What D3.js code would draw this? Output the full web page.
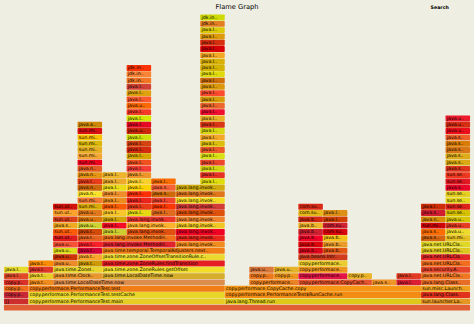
<!DOCTYPE html>
<html><head><meta charset="utf-8">
<script src="https://cdn.jsdelivr.net/npm/d3@7"></script>
<style>html,body{margin:0;padding:0;background:#efeee3;overflow:hidden}svg{display:block}</style>
</head><body>
<script>
// ---------- DATA (folded stacks, one sample each) ----------
const chartTitle = "Flame Graph";
const searchLabel = "Search";

const mainPath = ["copy.performace.PerformanceTest.main","copy.performace.PerformanceTest.testCache","copy.performace.PerformanceTest.test"];
const nowPath = ["java.time.LocalDateTime.now"];
const zonePath = ["java.time.Clock.systemDefaultZone","java.time.ZoneId.systemDefault"];
const rulesPath = ["java.time.LocalDateTime.now","java.time.zone.ZoneRules.getOffset","java.time.zone.ZoneRules.findTransition",
  "java.time.zone.ZoneOffsetTransitionRule.createTransition","java.time.temporal.TemporalAdjusters.nextOrSame"];
const linkPath = ["java.lang.invoke.MethodHandleNatives.linkCallSite","java.lang.invoke.MethodHandleNatives.linkCallSiteImpl"];
const invokePath = ["java.lang.invoke.CallSite.makeSite","java.lang.invoke.BootstrapMethodInvoker.invoke","java.lang.invoke.LambdaMetafactory.metafactory"];
const lambdaPath = ["java.lang.invoke.Invokers$Holder.linkToTargetMethod","java.lang.invoke.InnerClassLambdaMetafactory.buildCallSite",
  "java.lang.invoke.InnerClassLambdaMetafactory.spinInnerClass","java.lang.invoke.InvokerBytecodeGenerator.generate",
  "java.lang.invoke.InvokerBytecodeGenerator.emitBody","java.lang.invoke.InvokerBytecodeGenerator.emitInvoke",
  "java.lang.invoke.LambdaForm.compileToBytecode","java.lang.invoke.MemberName$Factory.resolve",
  "java.lang.invoke.MethodHandles$Lookup.resolveOrFail","java.lang.invoke.DirectMethodHandle.make"];
const threadPath = ["java.lang.Thread.run","copy.performace.PerformanceTest$RunCache.run","copy.performace.CopyCache.copy"];
const copierPath = ["copy.performace.CopyCache.getCopier","copy.performace.BeanCopier.create","copy.performace.BeanCopier.generate",
  "copy.performace.BeanCopier.getProperties","java.beans.Introspector.getBeanInfo"];
const launcherPath = ["sun.launcher.LauncherHelper.checkAndLoadMain","java.lang.Class.forName","sun.misc.Launcher$AppClassLoader.loadClass",
  "java.lang.ClassLoader.loadClass","java.net.URLClassLoader.findClass","java.security.AccessController.doPrivileged",
  "java.net.URLClassLoader$1.run","java.net.URLClassLoader.defineClass","java.net.URLClassLoader.getAndVerifyPackage","java.net.URLClassLoader.definePackage"];

const stacks = [
  ["[]","copy.performace.PerformanceTest.<clinit>","copy.performace.CopyCache.<clinit>","copy.performace.CopyCache.init","java.lang.Class.forName0","java.lang.ClassLoader.loadClass"],
  [...mainPath,"java.time.LocalDateTime.format","java.time.format.DateTimeFormatter.format","java.time.format.DateTimeFormatter.formatTo","java.time.format.DateTimeFormatterBuilder$CompositePrinterParser.format"],
  [...mainPath,...nowPath,...zonePath,"java.util.TimeZone.getDefault","java.util.TimeZone.getDefaultRef","java.util.TimeZone.setDefaultZone","java.util.TimeZone.getTimeZone",
    "sun.util.calendar.ZoneInfo.getTimeZone","sun.util.calendar.ZoneInfoFile.getZoneInfo","java.security.AccessController.doPrivileged",
    "sun.util.calendar.ZoneInfoFile$1.run","sun.util.calendar.ZoneInfoFile.load","sun.util.calendar.ZoneInfoFile.getZoneInfo0"],
  [...mainPath,...nowPath,...zonePath,"java.time.ZoneId.of","java.time.ZoneRegion.ofId","java.time.zone.ZoneRulesProvider.getRules",
    "java.time.zone.ZoneRulesProvider.getProvider","java.time.zone.ZoneRulesProvider.<clinit>","java.time.zone.TzdbZoneRulesProvider.<init>",
    "java.util.ServiceLoader$LazyIterator.next","java.util.ServiceLoader$LazyIterator.nextService","java.util.ServiceLoader.load",
    "sun.misc.Launcher$AppClassLoader.loadClass","sun.misc.URLClassPath.getResource","java.net.URLClassLoader.findClass","java.net.URLClassLoader.defineClass",
    "java.time.zone.Ser.read","java.net.URL.openStream","java.net.URLConnection.getInputStream",
    "sun.misc.URLClassPath$JarLoader.getResource","sun.misc.URLClassPath$JarLoader.ensureOpen","sun.misc.URLClassPath$JarLoader.getJarFile",
    "sun.misc.URLClassPath$JarLoader.checkJar","sun.misc.PerfCounter.addElapsedTimeFrom","sun.misc.PerfCounter.add","java.awt.Toolkit.getDefaultToolkit"],
  [...mainPath,...nowPath,...rulesPath,...linkPath,"java.lang.invoke.CallSite.makeSiteA","java.lang.invoke.BootstrapMethodInvoker.invokeA",
    "java.lang.invoke.MethodHandle.invokeWithArguments","java.lang.invoke.LambdaForm$MH.invoke","java.lang.invoke.DelegatingMethodHandle$Holder.reinvoke",
    "java.lang.invoke.DirectMethodHandle$Holder.invokeStatic","java.lang.invoke.LambdaMetafactory.metafactoryA","java.lang.invoke.InnerClassLambdaMetafactory.<init>",
    "java.lang.invoke.AbstractValidatingLambdaMetafactory.<init>","java.lang.invoke.LambdaForm$DMH.invokeStatic"],
  [...mainPath,...nowPath,...rulesPath,...linkPath,...invokePath,"java.lang.invoke.InnerClassLambdaMetafactory.buildCallSite","java.lang.invoke.InnerClassLambdaMetafactory.spinInnerClass",
    "java.lang.invoke.InnerClassLambdaMetafactory.generate","java.lang.invoke.InvokerBytecodeGenerator.generateCustomizedCode","java.lang.invoke.InvokerBytecodeGenerator.generateCustomizedCodeBytes",
    "java.lang.invoke.InvokerBytecodeGenerator.emitStaticInvoke","java.lang.invoke.InvokerBytecodeGenerator.emitPushArguments","java.lang.invoke.InvokerBytecodeGenerator.emitPushArgument",
    "java.lang.invoke.LambdaForm.compileToBytecode","java.lang.invoke.LambdaForm.prepare","java.lang.invoke.LambdaForm.<init>","java.lang.invoke.LambdaForm.normalize",
    "java.lang.invoke.MethodType.makeImpl","java.util.Arrays.copyOf","java.lang.invoke.MethodType$ConcurrentWeakInternSet.add","java.lang.invoke.MethodTypeForm.findForm",
    "java.lang.invoke.MethodHandles$Lookup.findStatic","java.util.concurrent.ConcurrentHashMap.putIfAbsent","java.lang.invoke.MethodHandles$Lookup.resolveOrFail",
    "java.lang.invoke.MemberName$Factory.resolveOrFail","java.lang.invoke.MemberName$Factory.resolve","jdk.internal.misc.Unsafe.ensureClassInitialized",
    "jdk.internal.misc.Unsafe.ensureClassInitialized0","jdk.internal.reflect.Reflection.getCallerClass"],
  [...mainPath,...nowPath,...rulesPath,...linkPath,...invokePath,"java.lang.invoke.InnerClassLambdaMetafactory.buildCallSiteB","java.lang.invoke.InnerClassLambdaMetafactory.spinInnerClassB",
    "java.lang.invoke.InvokerBytecodeGenerator.generateB","java.security.AccessController.doPrivileged","java.security.ProtectionDomain.getCodeSource","java.lang.ClassLoader.defineClass1"],
  [...mainPath,...nowPath,...rulesPath,...lambdaPath],
  [...mainPath,...nowPath,...rulesPath,...lambdaPath,
    "java.lang.invoke.DirectMethodHandle.preparedLambdaForm","java.lang.invoke.DirectMethodHandle.makePreparedLambdaForm","java.lang.invoke.LambdaForm.compileToBytecodeC",
    "java.lang.invoke.InvokerBytecodeGenerator.generateCustomizedCodeC","java.lang.invoke.InvokerBytecodeGenerator.generateCustomizedCodeBytesC","java.lang.invoke.InvokerBytecodeGenerator.addMethod",
    "java.lang.invoke.InvokerBytecodeGenerator.emitStaticInvokeC","java.lang.invoke.InvokerBytecodeGenerator.isStaticallyInvocable","java.lang.invoke.InvokerBytecodeGenerator.isStaticallyNameable",
    "java.lang.invoke.MemberName.getDeclaringClass","java.lang.invoke.MemberName$Factory.resolveC","java.lang.invoke.MethodHandleNatives.resolve",
    "java.lang.invoke.MethodHandleNatives.linkMethod","java.lang.invoke.Invokers.methodHandleInvokeLinkerMethod","java.lang.invoke.Invokers.invokeHandleForm",
    "java.lang.invoke.LambdaForm.<init>C","java.lang.invoke.LambdaForm$Name.<init>","java.lang.invoke.LambdaForm$NamedFunction.<init>","java.lang.invoke.LambdaForm$NamedFunction.methodType",
    "java.lang.invoke.MethodType.methodType","java.lang.invoke.MethodType.makeImplC","java.lang.invoke.MethodTypeForm.findFormC","java.lang.invoke.MethodTypeForm.<init>",
    "java.lang.invoke.MethodTypeForm.canonicalize","java.lang.invoke.MethodType.insertParameterTypes",
    "jdk.internal.misc.VM.isBooted","jdk.internal.misc.VM.initLevel"],
  [...threadPath],
  [...threadPath,"copy.performace.CopyCache.copyProperties","copy.performace.CopyCache.copyField","java.util.HashMap.get"],
  [...threadPath,"copy.performace.CopyCache.copyProperties","copy.performace.CopyCache.copyValue","java.util.HashMap.put"],
  [...threadPath,...copierPath,"java.beans.Introspector.<init>","java.beans.Introspector.getBeanInfoA","java.beans.Introspector.getTargetPropertyInfo",
    "java.beans.Introspector.getPublicDeclaredMethods","java.beans.Introspector.internalFindMethod","java.beans.PropertyDescriptor.<init>",
    "com.sun.beans.finder.ClassFinder.findClass","com.sun.beans.TypeResolver.resolveInClass"],
  [...threadPath,...copierPath,"java.beans.Introspector.getBeanInfoB","java.beans.Introspector.getSuperBeanInfo","java.beans.Introspector.findExplicitBeanInfo",
    "com.sun.beans.finder.BeanInfoFinder.find","com.sun.beans.finder.InstanceFinder.find","java.lang.Class.newInstance","java.lang.ClassLoader.loadClassB"],
  [...threadPath,"copy.performace.CopyCache.getCopier","copy.performace.CopyCache.getKey"],
  [...threadPath,"java.security.AccessController.getStackAccessControlContext"],
  [...threadPath,"java.lang.String.valueOf","java.lang.Integer.toString"],
  [...launcherPath,"java.security.SecureClassLoader.defineClass","java.security.CodeSource.getCodeSigners","sun.misc.Resource.getBytes",
    "java.net.URLClassLoader.isSealed","java.security.AccessController.doPrivilegedB","java.lang.ClassLoader.defineClass"],
  [...launcherPath,"sun.misc.Resource.getByteBuffer","java.util.jar.JarFile.getManifest","java.util.jar.JarFile.getManifestFromReference","java.util.zip.ZipFile.getInputStream",
    "sun.security.util.SignatureFileVerifier.isBlockOrSF","sun.security.util.ManifestEntryVerifier.<init>","sun.security.util.ManifestDigester.<init>","sun.security.jca.Providers.getProviderList",
    "java.security.MessageDigest.getInstance","sun.security.jca.GetInstance.getInstance","sun.security.jca.ProviderList.getService",
    "java.security.Provider.getService","java.security.Provider.ensureLegacyParsed","java.security.Provider.parseLegacyPut","java.security.Provider$ServiceKey.<init>",
    "java.security.Provider$Service.addAlias","java.security.Provider.putPropertyStrings","java.util.Hashtable.put","java.util.Hashtable.addEntry","java.util.Hashtable.rehash"]
];
const sampleCounts = [1,1,1,1,1,1,1,1,1,1,1,1,1,1,1,1,1,1,1];

// ---------- STYLE: colours for the wide / visible frames (name@depth) ----------
const frameColors = {
  "all@0":"rgb(226,94,52)",
  "[]@1":"rgb(205,45,45)","copy.performace.PerformanceTest.main@1":"rgb(230,205,35)","java.lang.Thread.run@1":"rgb(222,200,25)","sun.launcher.LauncherHelper.checkAndLoadMain@1":"rgb(232,150,35)",
  "copy.performace.PerformanceTest.<clinit>@2":"rgb(200,40,55)","copy.performace.PerformanceTest.testCache@2":"rgb(232,214,40)","copy.performace.PerformanceTest$RunCache.run@2":"rgb(242,140,20)","java.lang.Class.forName@2":"rgb(226,50,30)",
  "copy.performace.CopyCache.<clinit>@3":"rgb(238,110,30)","copy.performace.PerformanceTest.test@3":"rgb(242,125,20)","copy.performace.CopyCache.copy@3":"rgb(246,150,20)","sun.misc.Launcher$AppClassLoader.loadClass@3":"rgb(240,160,30)",
  "copy.performace.CopyCache.init@4":"rgb(218,50,40)","java.time.LocalDateTime.format@4":"rgb(240,140,30)","java.time.LocalDateTime.now@4":"rgb(220,140,75)",
  "copy.performace.CopyCache.copyProperties@4":"rgb(235,130,35)","copy.performace.CopyCache.getCopier@4":"rgb(230,85,45)","java.security.AccessController.getStackAccessControlContext@4":"rgb(240,150,40)",
  "java.lang.String.valueOf@4":"rgb(220,30,50)","java.lang.ClassLoader.loadClass@4":"rgb(232,110,40)",
  "java.lang.Class.forName0@5":"rgb(225,75,40)","java.time.format.DateTimeFormatter.format@5":"rgb(232,205,40)","java.time.Clock.systemDefaultZone@5":"rgb(232,150,45)","java.time.LocalDateTime.now@5":"rgb(214,172,45)",
  "copy.performace.CopyCache.copyField@5":"rgb(238,120,30)","copy.performace.CopyCache.copyValue@5":"rgb(240,150,30)","copy.performace.BeanCopier.create@5":"rgb(228,20,70)","copy.performace.CopyCache.getKey@5":"rgb(235,180,40)",
  "java.lang.Integer.toString@5":"rgb(225,60,35)","java.net.URLClassLoader.findClass@5":"rgb(240,120,35)",
  "java.lang.ClassLoader.loadClass@6":"rgb(232,220,45)","java.time.format.DateTimeFormatter.formatTo@6":"rgb(224,55,40)","java.time.ZoneId.systemDefault@6":"rgb(232,212,45)","java.time.zone.ZoneRules.getOffset@6":"rgb(240,222,45)",
  "java.util.HashMap.get@6":"rgb(220,120,60)","java.util.HashMap.put@6":"rgb(230,180,40)","copy.performace.BeanCopier.generate@6":"rgb(240,150,30)","java.security.AccessController.doPrivileged@6":"rgb(232,70,40)",
  "java.time.zone.ZoneRules.findTransition@7":"rgb(230,30,35)","copy.performace.BeanCopier.getProperties@7":"rgb(235,205,45)","java.net.URLClassLoader$1.run@7":"rgb(240,110,30)",
  "java.time.zone.ZoneOffsetTransitionRule.createTransition@8":"rgb(235,218,45)","java.beans.Introspector.getBeanInfo@8":"rgb(210,60,30)","java.net.URLClassLoader.defineClass@8":"rgb(228,40,40)",
  "java.time.temporal.TemporalAdjusters.nextOrSame@9":"rgb(242,125,20)","java.net.URLClassLoader.getAndVerifyPackage@9":"rgb(220,200,30)",
  "java.lang.invoke.MethodHandleNatives.linkCallSite@10":"rgb(225,35,45)","java.lang.invoke.Invokers$Holder.linkToTargetMethod@10":"rgb(240,140,30)","java.net.URLClassLoader.definePackage@10":"rgb(225,215,40)",
  "java.lang.invoke.MethodHandleNatives.linkCallSiteImpl@11":"rgb(240,115,25)"
};

// ---------- LAYOUT (flamegraph.pl geometry) ----------
const W = 1200, XPAD = 10, YPAD1 = 36, YPAD2 = 34, FH = 16, FPAD = 1, FS = 12, FW = 0.59;
const frames = [];
let prev = [], t = 0; const open = [];
stacks.forEach((st, i) => {
  const cur = ["all", ...st];
  let same = 0;
  while (same < prev.length && same < cur.length && prev[same] === cur[same]) same++;
  for (let d = prev.length - 1; d >= same; d--) { open[d].end = t; frames.push(open[d]); }
  for (let d = same; d < cur.length; d++) open[d] = {name: cur[d], depth: d, start: t};
  t += sampleCounts[i]; prev = cur;
});
for (let d = prev.length - 1; d >= 0; d--) { open[d].end = t; frames.push(open[d]); }
const total = d3.sum(sampleCounts);
const maxDepth = d3.max(frames, f => f.depth);
const H = (maxDepth + 1) * FH + YPAD1 + YPAD2;

const x = d3.scaleLinear().domain([0, total]).range([XPAD, W - XPAD]);
const y = d3.scaleLinear().domain([0, maxDepth + 1]).range([H - YPAD2, H - YPAD2 - (maxDepth + 1) * FH]);

// hot palette for the remaining frames (style only), deterministic per frame
function hash(s){let h=2166136261;for(let i=0;i<s.length;i++){h^=s.charCodeAt(i);h=Math.imul(h,16777619);}return h>>>0;}
function hot(f){
  const key = f.name + "@" + f.depth;
  if (frameColors[key]) return frameColors[key];
  const k=key+"|"+f.start;const a=hash(k),b=hash(k+"g"),c=hash(k+"b");
  const v1=(a%1000)/1000,v2=(b%1000)/1000,v3=(c%1000)/1000;
  return `rgb(${205+Math.floor(50*v3)},${Math.floor(230*v1)},${Math.floor(55*v2)})`;}

const svg = d3.select("body").append("svg")
  .attr("width", 474).attr("height", 324)
  .attr("viewBox", `0 0 ${W} ${H}`).attr("preserveAspectRatio", "none");
svg.append("rect").attr("x",0).attr("y",0).attr("width",W).attr("height",H).attr("fill","#efeee3");
svg.append("text").attr("x", W/2).attr("y", FS*2).attr("text-anchor","middle")
  .attr("font-size",17).attr("font-family","Verdana, 'DejaVu Sans'").attr("fill","rgb(0,0,0)").text(chartTitle);
svg.append("text").attr("x", W - XPAD - 100).attr("y", FS*2).attr("font-weight","bold")
  .attr("font-size",FS).attr("font-family","Verdana, 'DejaVu Sans'").attr("fill","rgb(0,0,0)").text(searchLabel);

const g = svg.append("g").selectAll("g").data(frames).join("g");
g.append("rect")
  .attr("x", f => x(f.start)).attr("y", f => y(f.depth + 1) + FPAD)
  .attr("width", f => x(f.end) - x(f.start)).attr("height", f => y(f.depth) - y(f.depth + 1) - FPAD)
  .attr("rx", 2).attr("ry", 2).attr("fill", f => hot(f));
g.append("text")
  .attr("x", f => x(f.start) + 3).attr("y", f => 3 + (y(f.depth + 1) + FPAD + y(f.depth)) / 2)
  .attr("font-size", FS).attr("font-family","Verdana, 'DejaVu Sans'").attr("fill","rgb(0,0,0)")
  .text(f => {
    if (f.depth === 0) return "";
    const chars = Math.floor((x(f.end) - x(f.start)) / (FS * FW));
    if (chars < 3) return "";
    let s = f.name.slice(0, chars);
    if (chars < f.name.length) s = s.slice(0, -2) + "..";
    return s;
  });
</script>
</body></html>
